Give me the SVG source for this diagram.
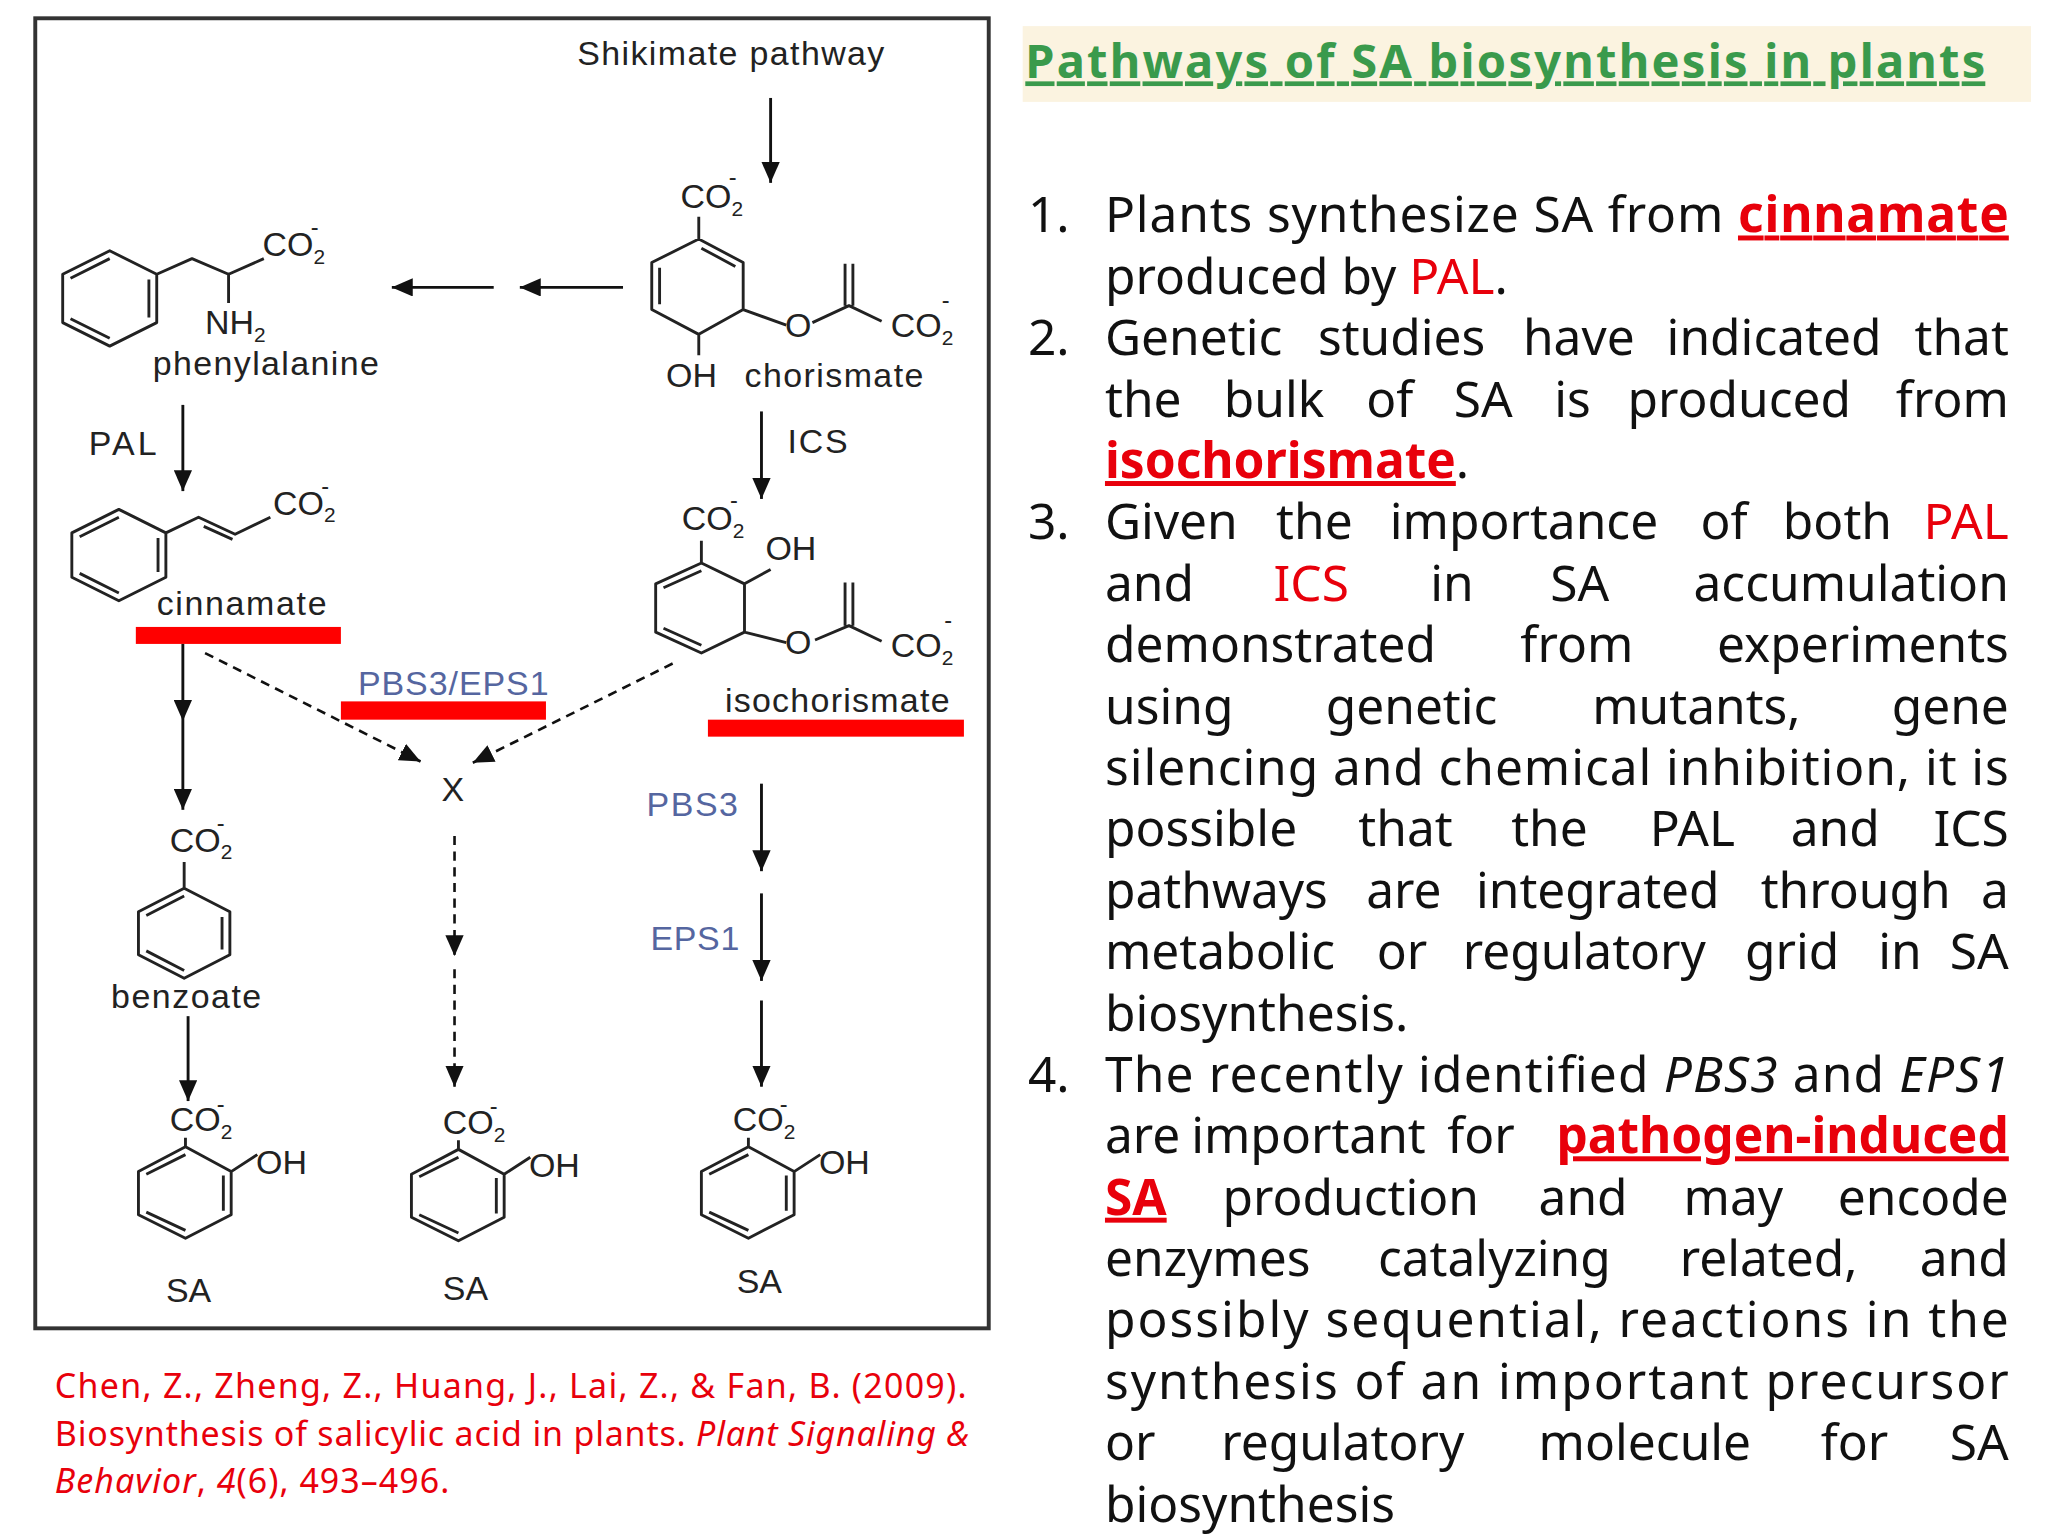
<svg xmlns="http://www.w3.org/2000/svg" xmlns:xlink="http://www.w3.org/1999/xlink" width="2048" height="1536" viewBox="0 0 2048 1536">
<style>
.b{fill:none;stroke:#222;stroke-width:2.2;stroke-linejoin:round}
.c{font-family:"Liberation Sans",Arial,sans-serif;font-size:26px;fill:#222}
.s{font-size:16px}
.m{font-family:"Liberation Sans",Arial,sans-serif;font-size:18px;fill:#222}
.blu{fill:#5566a0}
.a{fill:none;stroke:#111;stroke-width:2.2}
.d{fill:none;stroke:#111;stroke-width:2;stroke-dasharray:7 5}
.t{font-family:"Noto Sans","Open Sans",sans-serif;font-size:38px;fill:#111}
.r{fill:#e8000b}
.rb{fill:#e8000b;font-weight:bold;text-decoration:underline}
.cit{font-family:"Noto Sans","Open Sans",sans-serif;font-size:26px;fill:#e8000b}
</style>
<defs>
<marker id="ah" viewBox="0 0 16 14" refX="16" refY="7" markerWidth="16" markerHeight="14" markerUnits="userSpaceOnUse" orient="auto"><path d="M0,0L16,7L0,14z" fill="#111"/></marker>
<g id="sa">
<path class="b" d="M142,878L177,897L177,930L142,948L106,930L106,897Z M112,899L142,884 M171,900L171,927 M112,928L142,942 M142,878L142,871 M177,897L197,884"/>
<text class="c" x="130" y="866">CO<tspan class="s" dy="6">2</tspan></text>
<text class="m" x="166" y="851">-</text>
<text class="c" x="196" y="899">OH</text>
</g>
</defs>
<rect width="2048" height="1536" fill="#fff"/>
<g transform="scale(1.30612)">
<rect x="27" y="14" width="730" height="1003" fill="#fff" stroke="#333" stroke-width="3"/>
<g id="shikimate"><text class="c" x="442" y="50" textLength="235">Shikimate pathway</text></g>
<g id="chorismate">
<path class="b" d="M535,183L569,201L569,237L535,256L499,237L499,201Z M537,190L563,204 M505,205L505,233 M535,183L535,166 M535,256L535,272 M569,237L602,249 M622,247L650,234L675,246 M647,202L647,234 M653,202L653,234"/>
<text class="c" x="521" y="159">CO<tspan class="s" dy="6">2</tspan></text><text class="m" x="558" y="142">-</text>
<text class="c" x="601" y="258">O</text>
<text class="c" x="682" y="258">CO<tspan class="s" dy="6">2</tspan></text><text class="m" x="721" y="236">-</text>
<text class="c" x="510" y="296">OH</text>
<text class="c" x="570" y="296" textLength="137">chorismate</text>
</g>
<g id="phenylalanine">
<path class="b" d="M84,192L120,210L120,247L84,265L48,247L48,210Z M114,214L114,243 M54,213L84,198 M54,244L84,259 M120,210L147,198L175,210L202,198 M175,210L175,232"/>
<text class="c" x="201" y="196">CO<tspan class="s" dy="6">2</tspan></text><text class="m" x="238" y="180">-</text>
<text class="c" x="157" y="256">NH<tspan class="s" dy="6">2</tspan></text>
<text class="c" x="117" y="287" textLength="173">phenylalanine</text>
</g>
<g id="cinnamate">
<path class="b" d="M91,390L127,408L127,442L91,460L55,442L55,408Z M121,412L121,438 M61,411L91,396 M61,439L91,454 M127,408L152,396L180,409L207,396 M156,403L178,413"/>
<text class="c" x="209" y="394">CO<tspan class="s" dy="6">2</tspan></text><text class="m" x="246" y="378">-</text>
<text class="c" x="120" y="471" textLength="130">cinnamate</text>
<rect x="104" y="480" width="157" height="13" fill="#f00"/>
</g>
<g id="isochorismate">
<path class="b" d="M537,431L570,447L570,484L537,500L502,484L502,447Z M508,450L537,437 M508,481L537,494 M537,431L537,414 M570,447L590,436 M570,484L602,492 M624,490L650,479L675,491 M647,446L647,479 M653,446L653,479"/>
<text class="c" x="522" y="406">CO<tspan class="s" dy="6">2</tspan></text><text class="m" x="559" y="389">-</text>
<text class="c" x="586" y="429">OH</text>
<text class="c" x="601" y="501">O</text>
<text class="c" x="682" y="503">CO<tspan class="s" dy="6">2</tspan></text><text class="m" x="723" y="481">-</text>
<text class="c" x="555" y="545" textLength="172">isochorismate</text>
<rect x="542" y="551" width="196" height="13" fill="#f00"/>
</g>
<g id="pbs3eps1"><text class="c blu" x="274" y="532" textLength="146">PBS3/EPS1</text><rect x="261" y="537" width="157" height="14" fill="#f00"/></g>
<g id="x"><text class="c" x="338" y="613">X</text></g>
<g id="benzoate">
<path class="b" d="M141,680L176,698L176,731L141,749L106,731L106,698Z M112,701L141,686 M170,702L170,727 M112,728L141,743 M141,680L141,660"/>
<text class="c" x="130" y="652">CO<tspan class="s" dy="6">2</tspan></text><text class="m" x="166" y="636">-</text>
<text class="c" x="85" y="772" textLength="115">benzoate</text>
</g>
<g id="sa1"><use xlink:href="#sa"/><text class="c" x="127" y="997">SA</text></g>
<g id="sa2"><use xlink:href="#sa" transform="translate(209,2)"/><text class="c" x="339" y="995">SA</text></g>
<g id="sa3"><use xlink:href="#sa" transform="translate(431,0)"/><text class="c" x="564" y="990">SA</text></g>
<g id="labels">
<text class="c" x="68" y="348" textLength="52">PAL</text>
<text class="c" x="603" y="347" textLength="46">ICS</text>
<text class="c blu" x="495" y="625" textLength="70">PBS3</text>
<text class="c blu" x="498" y="727" textLength="68">EPS1</text>
</g>
<g id="connectors">
<line class="a" x1="590" y1="75" x2="590" y2="140" marker-end="url(#ah)"/>
<line class="a" x1="477" y1="220" x2="398" y2="220" marker-end="url(#ah)"/>
<line class="a" x1="378" y1="220" x2="300" y2="220" marker-end="url(#ah)"/>
<line class="a" x1="140" y1="310" x2="140" y2="376" marker-end="url(#ah)"/>
<line class="a" x1="583" y1="315" x2="583" y2="382" marker-end="url(#ah)"/>
<line class="a" x1="140" y1="493" x2="140" y2="552" marker-end="url(#ah)"/>
<line class="a" x1="140" y1="552" x2="140" y2="620" marker-end="url(#ah)"/>
<line class="a" x1="144" y1="778" x2="144" y2="843" marker-end="url(#ah)"/>
<line class="d" x1="157" y1="500" x2="322" y2="583" marker-end="url(#ah)"/>
<line class="d" x1="515" y1="508" x2="362" y2="584" marker-end="url(#ah)"/>
<line class="d" x1="348" y1="640" x2="348" y2="732" marker-end="url(#ah)"/>
<line class="d" x1="348" y1="742" x2="348" y2="832" marker-end="url(#ah)"/>
<line class="a" x1="583" y1="600" x2="583" y2="667" marker-end="url(#ah)"/>
<line class="a" x1="583" y1="684" x2="583" y2="751" marker-end="url(#ah)"/>
<line class="a" x1="583" y1="766" x2="583" y2="832" marker-end="url(#ah)"/>
</g>
<g id="citation" class="cit">
<text x="42" y="1070" textLength="698">Chen, Z., Zheng, Z., Huang, J., Lai, Z., &amp; Fan, B. (2009).</text>
<text x="42" y="1107" textLength="700">Biosynthesis of salicylic acid in plants. <tspan font-style="italic">Plant Signaling &amp;</tspan></text>
<text x="42" y="1143" textLength="302"><tspan font-style="italic">Behavior</tspan>, <tspan font-style="italic">4</tspan>(6), 493–496.</text>
</g>
<g id="title">
<rect x="783" y="20" width="772" height="58" fill="#fbf3e0"/>
<text x="785" y="60" font-family="'Noto Sans','Open Sans',sans-serif" font-size="36" font-weight="bold" fill="#3a9a4c" text-decoration="underline" textLength="735">Pathways of SA biosynthesis in plants</text>
</g>
<g id="body" class="t">
<text x="787" y="178">1.</text>
<text x="846" y="178" textLength="692">Plants synthesize SA from <tspan class="rb">cinnamate</tspan></text>
<text x="846" y="225">produced by <tspan class="r">PAL</tspan>.</text>
<text x="787" y="272">2.</text>
<text y="272"><tspan x="846">Genetic</tspan><tspan x="1009">studies</tspan><tspan x="1166">have</tspan><tspan x="1276">indicated</tspan></text><text x="1538" y="272" text-anchor="end">that</text>
<text y="319"><tspan x="846">the</tspan><tspan x="937">bulk</tspan><tspan x="1046">of</tspan><tspan x="1113">SA</tspan><tspan x="1190">is</tspan><tspan x="1246">produced</tspan></text><text x="1538" y="319" text-anchor="end">from</text>
<text x="846" y="366"><tspan class="rb">isochorismate</tspan>.</text>
<text x="787" y="413">3.</text>
<text y="413"><tspan x="846">Given</tspan><tspan x="977">the</tspan><tspan x="1064">importance</tspan><tspan x="1302">of</tspan><tspan x="1365">both</tspan></text><text x="1538" y="413" text-anchor="end" class="r">PAL</text>
<text y="460"><tspan x="846">and</tspan><tspan x="975" class="r">ICS</tspan><tspan x="1095">in</tspan><tspan x="1187">SA</tspan></text><text x="1538" y="460" text-anchor="end">accumulation</text>
<text y="507"><tspan x="846">demonstrated</tspan><tspan x="1164">from</tspan></text><text x="1538" y="507" text-anchor="end">experiments</text>
<text y="554"><tspan x="846">using</tspan><tspan x="1015">genetic</tspan><tspan x="1219">mutants,</tspan></text><text x="1538" y="554" text-anchor="end">gene</text>
<text x="846" y="601" textLength="692">silencing and chemical inhibition, it is</text>
<text y="648"><tspan x="846">possible</tspan><tspan x="1040">that</tspan><tspan x="1157">the</tspan><tspan x="1263">PAL</tspan><tspan x="1371">and</tspan></text><text x="1538" y="648" text-anchor="end">ICS</text>
<text y="695"><tspan x="846">pathways</tspan><tspan x="1046">are</tspan><tspan x="1130">integrated</tspan><tspan x="1348">through</tspan></text><text x="1538" y="695" text-anchor="end">a</text>
<text y="742"><tspan x="846">metabolic</tspan><tspan x="1054">or</tspan><tspan x="1120">regulatory</tspan><tspan x="1336">grid</tspan><tspan x="1438">in</tspan></text><text x="1538" y="742" text-anchor="end">SA</text>
<text x="846" y="789">biosynthesis.</text>
<text x="787" y="836">4.</text>
<text x="846" y="836" textLength="692">The recently identified <tspan font-style="italic">PBS3</tspan> and <tspan font-style="italic">EPS1</tspan></text>
<text y="883"><tspan x="846">are</tspan><tspan x="912">important</tspan><tspan x="1108">for</tspan></text><text x="1538" y="883" text-anchor="end" class="rb">pathogen-induced</text>
<text y="930"><tspan x="846" class="rb">SA</tspan><tspan x="936">production</tspan><tspan x="1178">and</tspan><tspan x="1289">may</tspan></text><text x="1538" y="930" text-anchor="end">encode</text>
<text y="977"><tspan x="846">enzymes</tspan><tspan x="1055">catalyzing</tspan><tspan x="1286">related,</tspan></text><text x="1538" y="977" text-anchor="end">and</text>
<text x="846" y="1024" textLength="692">possibly sequential, reactions in the</text>
<text x="846" y="1071" textLength="692">synthesis of an important precursor</text>
<text y="1118"><tspan x="846">or</tspan><tspan x="935">regulatory</tspan><tspan x="1178">molecule</tspan><tspan x="1394">for</tspan></text><text x="1538" y="1118" text-anchor="end">SA</text>
<text x="846" y="1165">biosynthesis</text>
</g>
</g>
</svg>
